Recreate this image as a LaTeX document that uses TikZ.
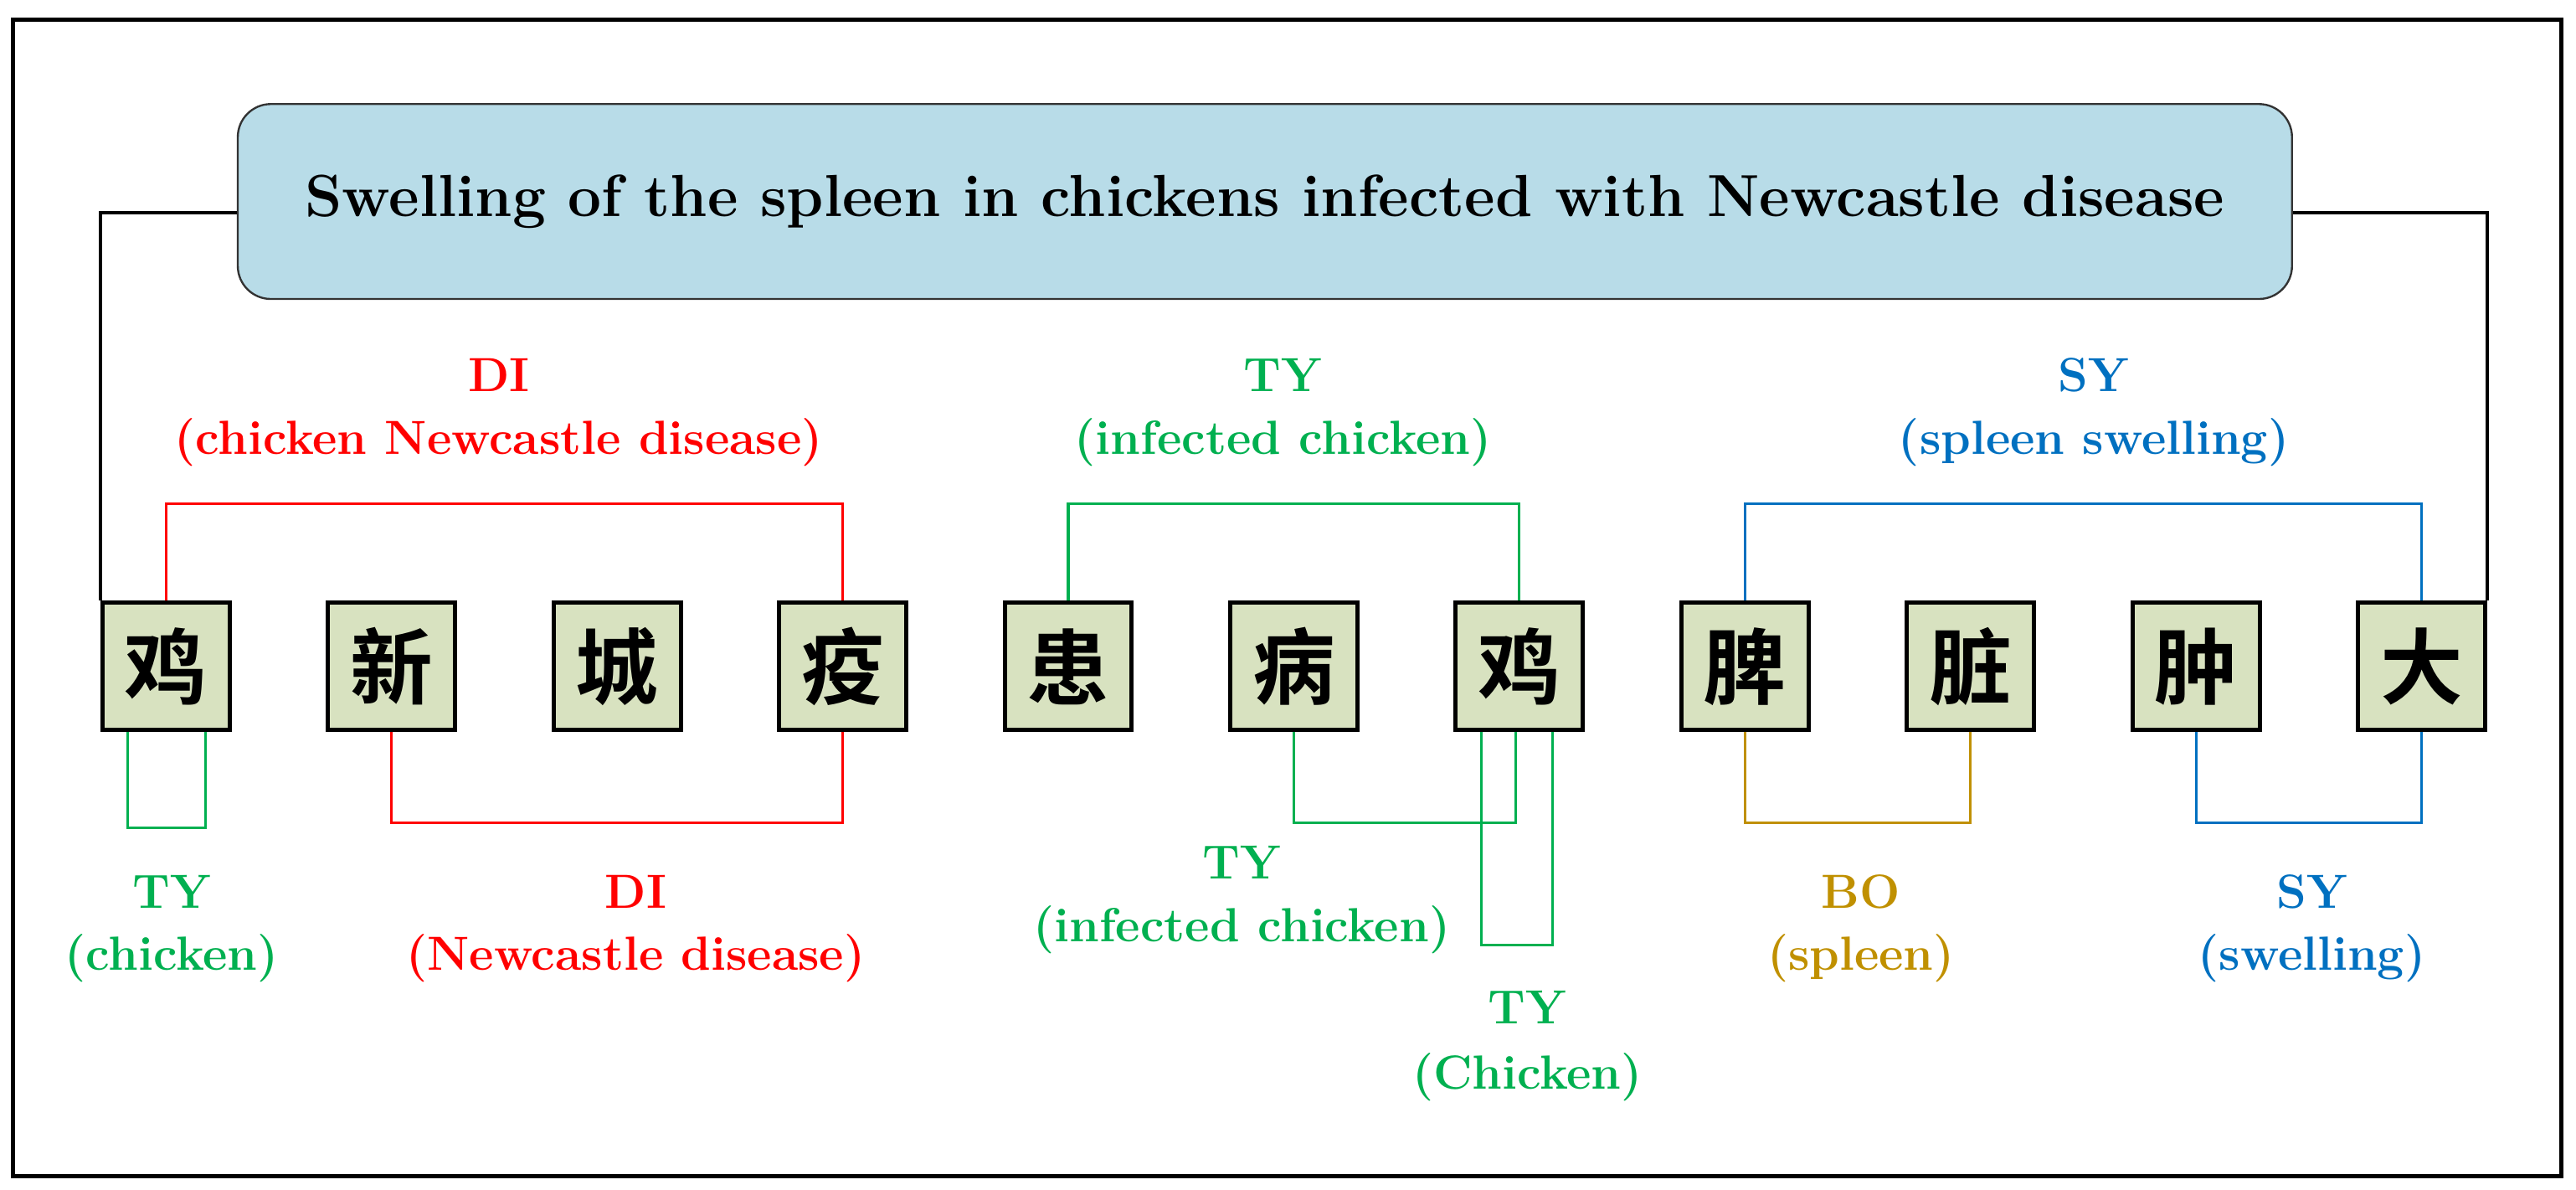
\documentclass[tikz,border=0pt]{standalone}
\usepackage{fontspec}
\newfontfamily\cjk{Noto Sans CJK SC}[BoldFont={* Bold}]
\definecolor{myred}{HTML}{FF0000}
\definecolor{mygreen}{HTML}{00B050}
\definecolor{myblue}{HTML}{0070C0}
\definecolor{mygold}{HTML}{C09000}
\definecolor{boxfill}{HTML}{D8E2C0}
\definecolor{titlefill}{HTML}{B8DCE8}
\begin{document}
\begin{tikzpicture}[x=1pt,y=-1pt,
  ch/.style={draw=black,line width=2.5pt,fill=boxfill,minimum width=77pt,minimum height=77pt,inner sep=0pt,font=\fontsize{50}{50}\cjk\bfseries},
  lab/.style={font=\fontsize{29}{34}\selectfont\bfseries,align=center,inner sep=0pt},
  ln/.style={line width=1.6pt}]
\useasboundingbox (0,0) rectangle (1560,720);
\draw[line width=2.5pt] (8,12) rectangle (1551,712);
\node[draw=black!80,line width=1.2pt,fill=titlefill,rounded corners=20pt,minimum width=1244pt,minimum height=118pt,font=\fontsize{36}{42}\selectfont\bfseries] (title) at (766,122) {Swelling of the spleen in chickens infected with Newcastle disease};
\foreach \c/\n [count=\i from 0] in {鸡/a,新/b,城/c,疫/d,患/e,病/f,鸡/g,脾/h,脏/i,肿/j,大/k}{
  \node[ch] (\n) at ({100.5+136.6*\i},403.5) {\c};
}
% black
\draw[ln,black,line width=2pt] (title.west |- 0,129) -| (a.north west);
\draw[ln,black,line width=2pt] (title.east |- 0,129) -| (k.north east);
% red
\draw[ln,myred] (a.north) -- ++(0,-59) -| (d.north);
\draw[ln,myred] (b.south) -- ++(0,55) -| (d.south);
\node[lab,myred] (l1) at (302,227) {DI};
\node[lab,myred] (l2) at (302,268) {(chicken Newcastle disease)};
\node[lab,myred] (l3) at (385,540) {DI};
\node[lab,myred] (l4) at (385,580) {(Newcastle disease)};
% green
\draw[ln,mygreen] ([xshift=-23pt]a.south) -- ++(0,58) -| ([xshift=24pt]a.south);
\draw[ln,mygreen] (e.north) -- ++(0,-59) -| (g.north);
\draw[ln,mygreen] (f.south) -- ++(0,55) -| ([xshift=-2pt]g.south);
\draw[ln,mygreen] ([xshift=-23pt]g.south) -- ++(0,129) -| ([xshift=20pt]g.south);
\node[lab,mygreen] (l5) at (104,540) {TY};
\node[lab,mygreen] (l6) at (104,580) {(chicken)};
\node[lab,mygreen] (l7) at (777,227) {TY};
\node[lab,mygreen] (l8) at (777,268) {(infected chicken)};
\node[lab,mygreen] (l9) at (752,522) {TY};
\node[lab,mygreen] (l10) at (752,563) {(infected chicken)};
\node[lab,mygreen] (l11) at (925,610) {TY};
\node[lab,mygreen] (l12) at (925,652) {(Chicken)};
% blue
\draw[ln,myblue] (h.north) -- ++(0,-59) -| (k.north);
\draw[ln,myblue] (j.south) -- ++(0,55) -| (k.south);
\node[lab,myblue] (l13) at (1268,227) {SY};
\node[lab,myblue] (l14) at (1268,268) {(spleen swelling)};
\node[lab,myblue] (l15) at (1400,540) {SY};
\node[lab,myblue] (l16) at (1400,580) {(swelling)};
% gold
\draw[ln,mygold] (h.south) -- ++(0,55) -| (i.south);
\node[lab,mygold] (l17) at (1127,540) {BO};
\node[lab,mygold] (l18) at (1127,580) {(spleen)};
\end{tikzpicture}
\end{document}
